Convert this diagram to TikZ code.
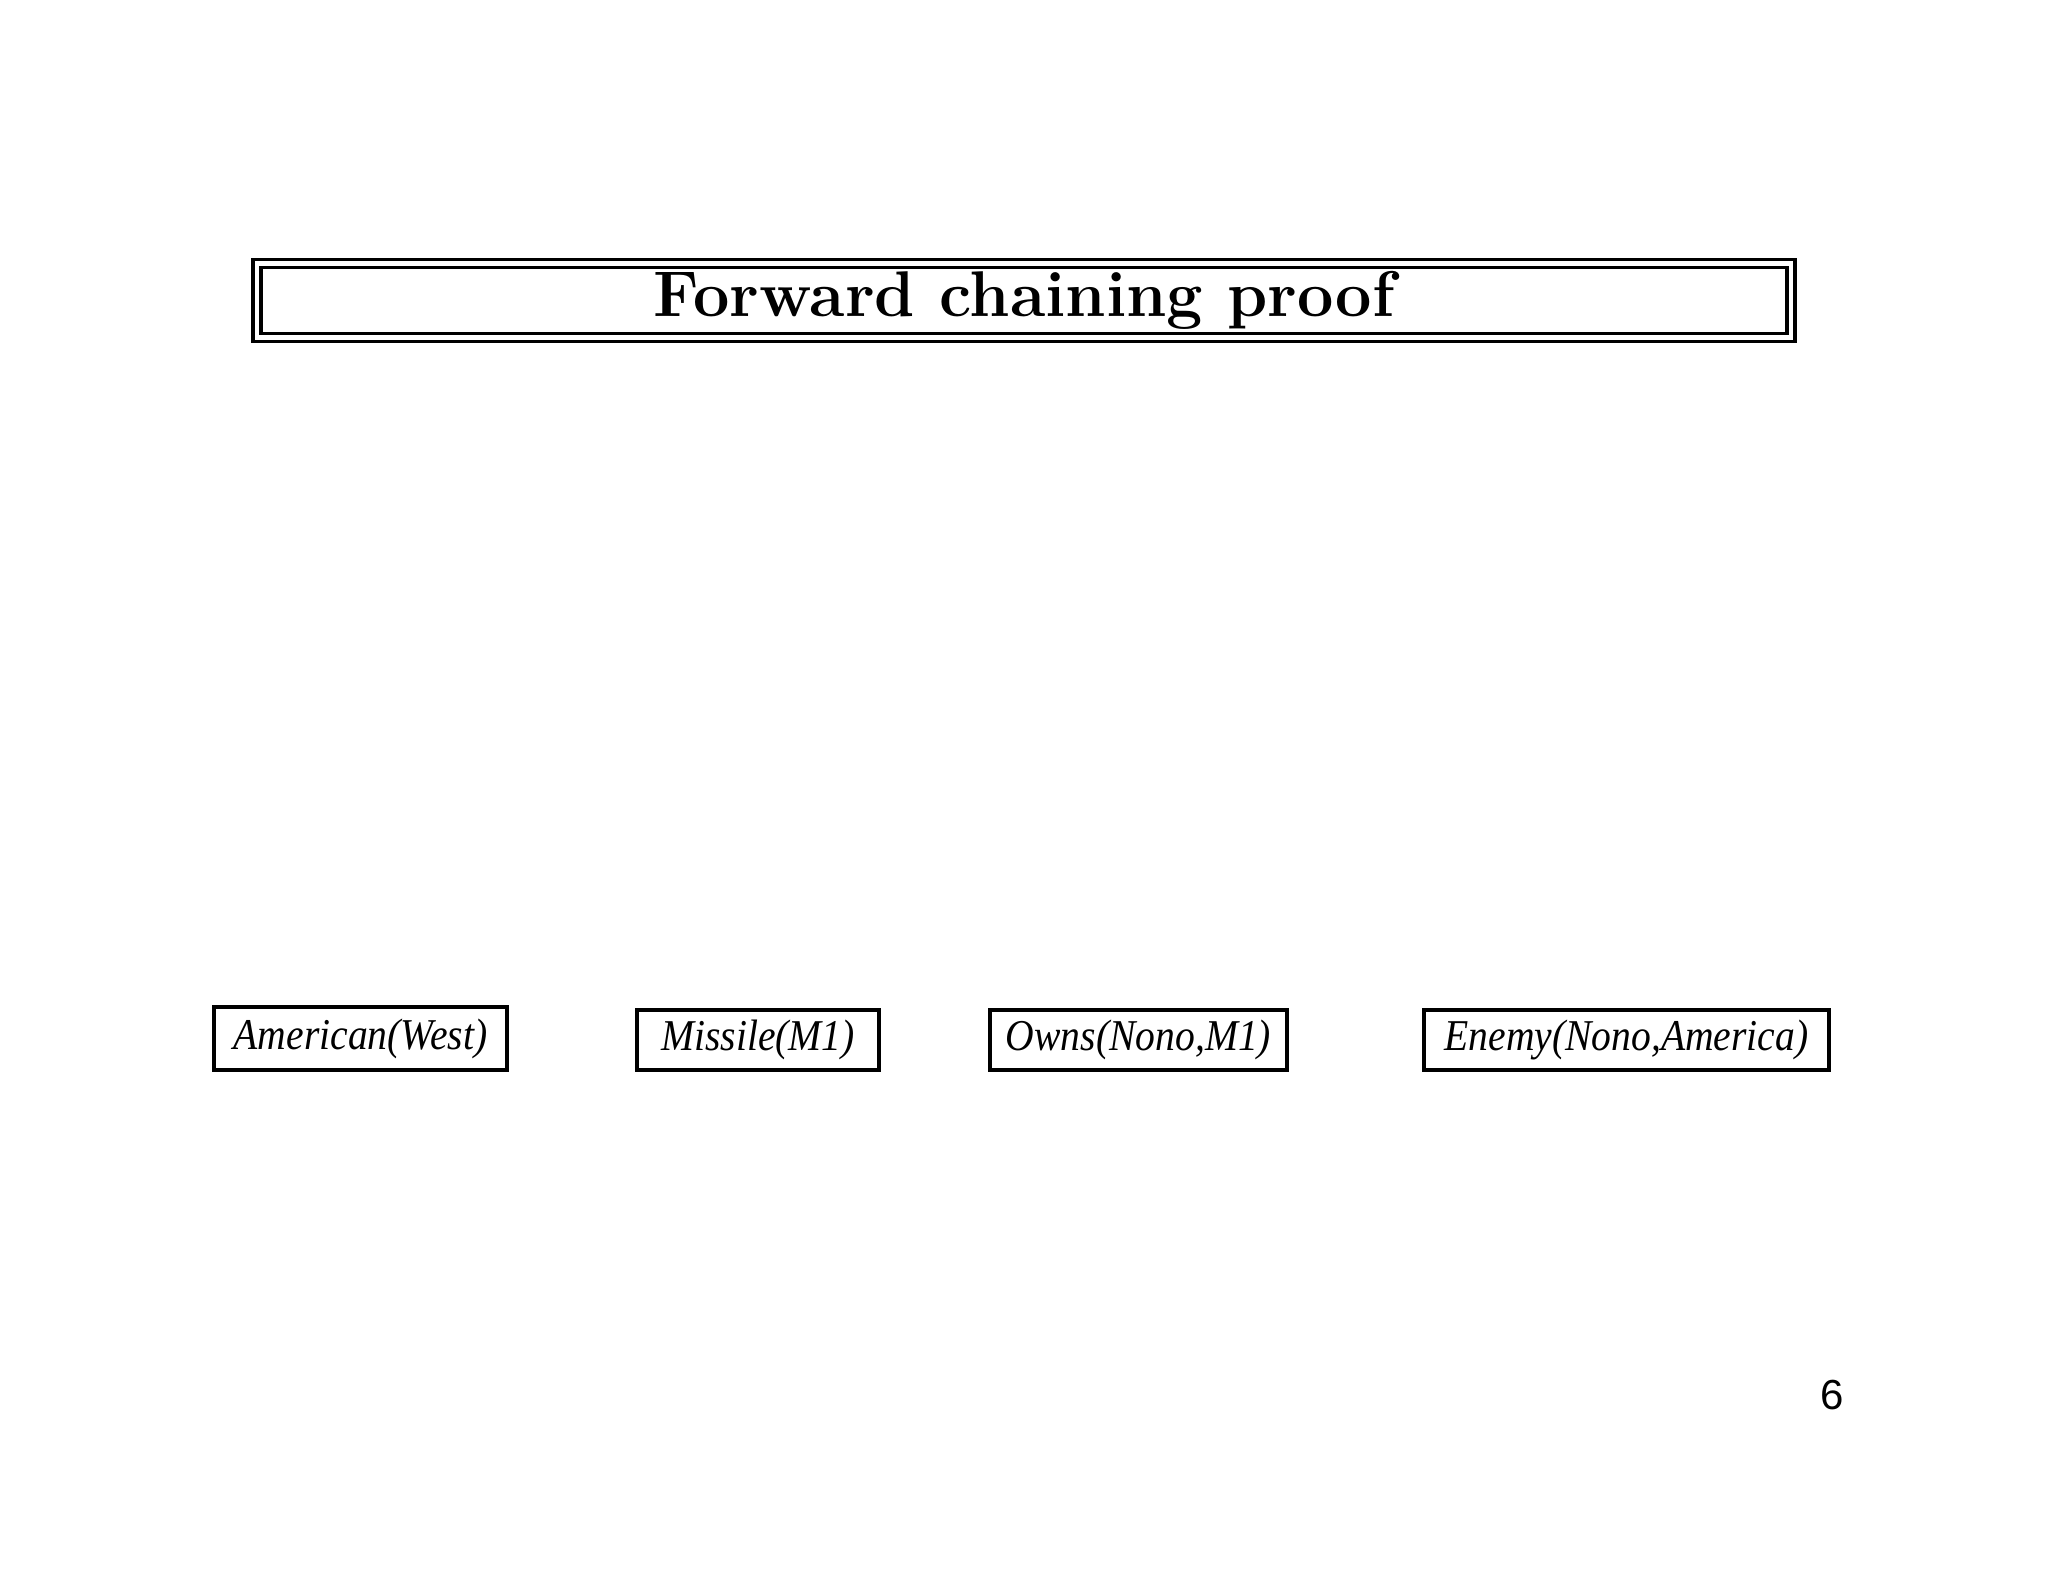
\documentclass[tikz,border=0pt]{standalone}
\usepackage{fontspec}
\newfontfamily\factfont[FakeStretch=0.9]{Liberation Serif}
\newfontfamily\pagefont{Liberation Sans}
\begin{document}
\begin{tikzpicture}[x=0.5pt,y=-0.5pt,
  titlebox/.style={draw, double, line width=1.6pt, double distance=2.4pt,
    minimum width=767pt, minimum height=36.9pt, inner sep=0pt,
    font=\fontsize{32.3}{37}\selectfont\bfseries},
  factbox/.style={draw, line width=1.6pt, inner sep=0pt,
    font=\factfont\itshape\fontsize{22}{26}\selectfont}]
\useasboundingbox (0,0) rectangle (2048,1582);
\node[titlebox] (title) at (1024,300.5) {Forward chaining proof};
\node[factbox, minimum width=146.5pt, minimum height=31.5pt] (american) at (360.5,1038.5) {American(West)};
\node[factbox, minimum width=121pt, minimum height=30pt] (missile) at (758,1040) {Missile(M1)};
\node[factbox, minimum width=148.5pt, minimum height=30pt] (owns) at (1138.5,1040) {Owns(Nono,M1)};
\node[factbox, minimum width=202.5pt, minimum height=30pt] (enemy) at (1626.5,1040) {Enemy(Nono,America)};
\node[font=\pagefont\fontsize{21}{24}\selectfont] (page) at (1832,1395) {6};
\end{tikzpicture}
\end{document}
